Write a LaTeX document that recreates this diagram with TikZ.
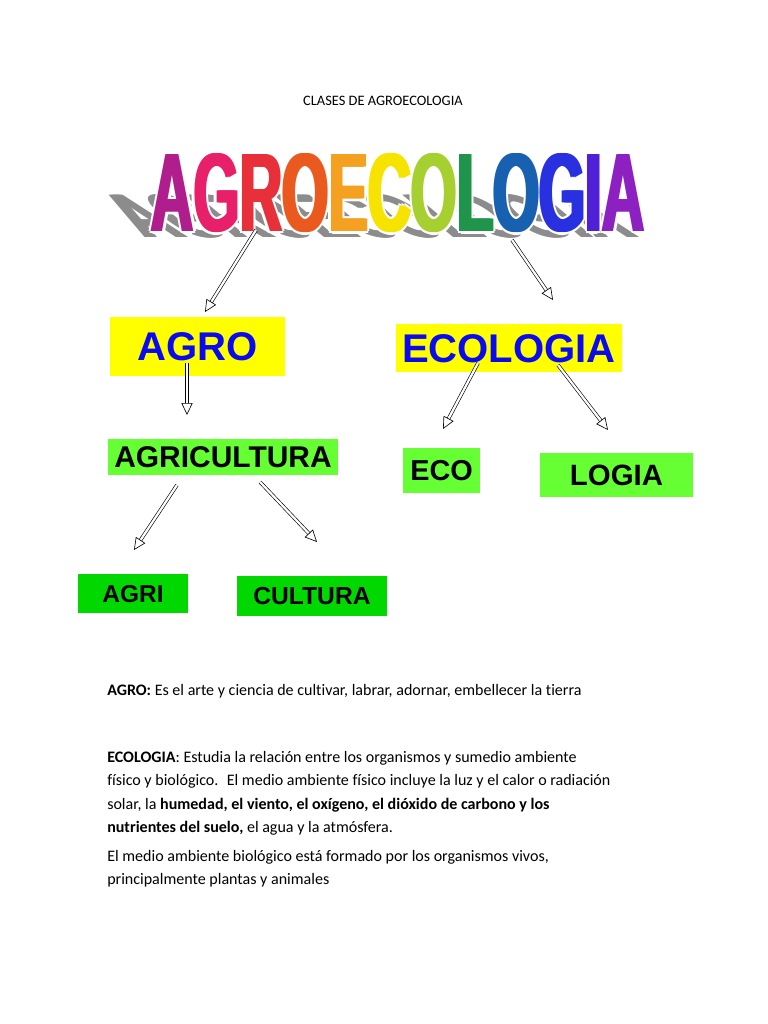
\documentclass[tikz,border=0pt]{standalone}
\usepackage{fontspec}
\usepackage{graphicx}
\setmainfont{Carlito}[Ligatures=NoCommon]
\newfontfamily\arialfont{Liberation Sans}
\usetikzlibrary{arrows.meta,positioning}
\definecolor{boxyellow}{HTML}{FFFF00}
\definecolor{wordblue}{HTML}{0A0AF0}
\definecolor{lightgreen}{HTML}{66FF33}
\definecolor{darkgreen}{HTML}{00D800}
\definecolor{shadowgray}{HTML}{8C8C8C}
\definecolor{lA}{HTML}{B01E8E}
\definecolor{lG}{HTML}{E8206A}
\definecolor{lR}{HTML}{E8303A}
\definecolor{lO}{HTML}{EA5A1E}
\definecolor{lE}{HTML}{F4A020}
\definecolor{lC}{HTML}{F6E400}
\definecolor{lOb}{HTML}{A6D030}
\definecolor{lL}{HTML}{20944A}
\definecolor{lOc}{HTML}{1860B0}
\definecolor{lGb}{HTML}{2830E0}
\definecolor{lI}{HTML}{5020D8}
\definecolor{lAb}{HTML}{8C20C0}
\newcommand{\bigword}{\arialfont\bfseries\fontsize{79.5}{80}\selectfont}
\newcommand{\rainbow}{\textcolor{lA}{A}\textcolor{lG}{G}\textcolor{lR}{R}\textcolor{lO}{O}\textcolor{lE}{E}\textcolor{lC}{C}\textcolor{lOb}{O}\textcolor{lL}{L}\textcolor{lOc}{O}\textcolor{lGb}{G}\textcolor{lI}{I}\textcolor{lAb}{A}}
\newcommand{\bodytext}{\fontsize{11.4}{13}\selectfont}
\tikzset{
	hollow/.style={draw=black, line width=0.45pt, double=white, double distance=1.6pt, -{Triangle[open,length=8.5pt,width=8pt]}},
	yellowbox/.style={fill=boxyellow, text=wordblue, inner sep=0pt, text height=20.4pt, text depth=0pt, font=\arialfont\bfseries\fontsize{28.5}{30}\selectfont},
	greenbox/.style={fill=lightgreen, text=black, inner sep=0pt, text depth=0pt},
	letters/.style={anchor=base, inner sep=0pt},
	textline/.style={anchor=base west, inner sep=0pt, font=\bodytext}
}
\begin{document}
\begin{tikzpicture}[x=0.025cm, y=-0.025cm]
	\fill[white] (0,0) rectangle (768,1024);
	\useasboundingbox (0,0) rectangle (768,1024);
	\node[font=\fontsize{10.25}{12}\selectfont] (title) at (383,101) {CLASES DE AGROECOLOGIA};
	\foreach \dx in {-2,0,2}
		\node[letters, text=shadowgray, xslant=-1.2, yscale=0.55] at (392+\dx,238) {\scalebox{0.53}[1]{\bigword AGROECOLOGIA}};
	\foreach \dx/\dy in {-4/0,4/0,0/-2.5,0/2.5,-3/-2,3/-2,-3/2,3/2}
		\node[letters, text=white] at (398+\dx,232+\dy) {\scalebox{0.53}[1]{\bigword AGROECOLOGIA}};
	\foreach \dx in {-1.8,1.8}
		\node[letters] at (398+\dx,232) {\scalebox{0.53}[1]{\bigword\rainbow}};
	\node[letters] (word) at (398,232) {\scalebox{0.53}[1]{\bigword\rainbow}};
	\node[yellowbox, minimum width=124.5pt, minimum height=42pt] (agro) at (197.5,346.5) {AGRO};
	\node[yellowbox, minimum width=160.8pt, minimum height=34.1pt] (ecologia) at (509,348) {ECOLOGIA};
	\node[greenbox, minimum width=163.6pt, minimum height=25.6pt, text height=15.3pt, font=\arialfont\bfseries\fontsize{21.3}{22}\selectfont] (agricultura) at (223,457) {AGRICULTURA};
	\node[greenbox, fill=darkgreen, minimum width=78.2pt, minimum height=27.7pt, text height=12.5pt, font=\arialfont\bfseries\fontsize{17.4}{18}\selectfont] (agri) at (133,593.5) {AGRI};
	\node[greenbox, fill=darkgreen, minimum width=106.7pt, minimum height=28.5pt, text height=12.5pt, font=\arialfont\bfseries\fontsize{17.5}{18}\selectfont] (cultura) at (312,596) {CULTURA};
	\node[greenbox, minimum width=54.8pt, minimum height=32pt, text height=14.5pt, font=\arialfont\bfseries\fontsize{20.5}{21}\selectfont] (eco) at (441.5,470.5) {ECO};
	\node[greenbox, minimum width=108.8pt, minimum height=31.3pt, text height=15pt, font=\arialfont\bfseries\fontsize{20.9}{21}\selectfont] (logia) at (616.5,475) {LOGIA};
	\coordinate (wordL) at (256,230);
	\coordinate (wordR) at (512,240);
	\coordinate (agroS) at (187,363);
	\coordinate (ecoS) at (478,363);
	\coordinate (logiaS) at (558,365);
	\coordinate (agriS) at (177,485);
	\coordinate (culturaS) at (260,482);
	\coordinate (toAgro) at (205,312);
	\coordinate (toEcologia) at (553,300);
	\coordinate (toAgricultura) at (187,415);
	\coordinate (toEco) at (443,429);
	\coordinate (toLogia) at (608,430);
	\coordinate (toAgri) at (134,550);
	\coordinate (toCultura) at (317,542);
	\draw[hollow] (wordL) -- (toAgro);
	\draw[hollow] (wordR) -- (toEcologia);
	\draw[hollow] (agroS) -- (toAgricultura);
	\draw[hollow] (ecoS) -- (toEco);
	\draw[hollow] (logiaS) -- (toLogia);
	\draw[hollow] (agriS) -- (toAgri);
	\draw[hollow] (culturaS) -- (toCultura);
	\node[textline] (agrodef) at (107,695) {\textbf{AGRO:} Es el arte y ciencia de cultivar, labrar, adornar, embellecer la tierra};
	\node[textline] (eco1) at (107,762) {\textbf{ECOLOGIA}: Estudia la relación entre los organismos y sumedio ambiente};
	\node[textline] (eco2) at (107,785.5) {físico y biológico. \ El medio ambiente físico incluye la luz y el calor o radiación};
	\node[textline] (eco3) at (107,809) {solar, la \textbf{humedad, el viento, el oxígeno, el dióxido de carbono y los}};
	\node[textline] (eco4) at (107,832.5) {\textbf{nutrientes del suelo,} el agua y la atmósfera.};
	\node[textline] (bio1) at (107,861) {El medio ambiente biológico está formado por los organismos vivos,};
	\node[textline] (bio2) at (107,884.5) {principalmente plantas y animales};
\end{tikzpicture}
\end{document}
